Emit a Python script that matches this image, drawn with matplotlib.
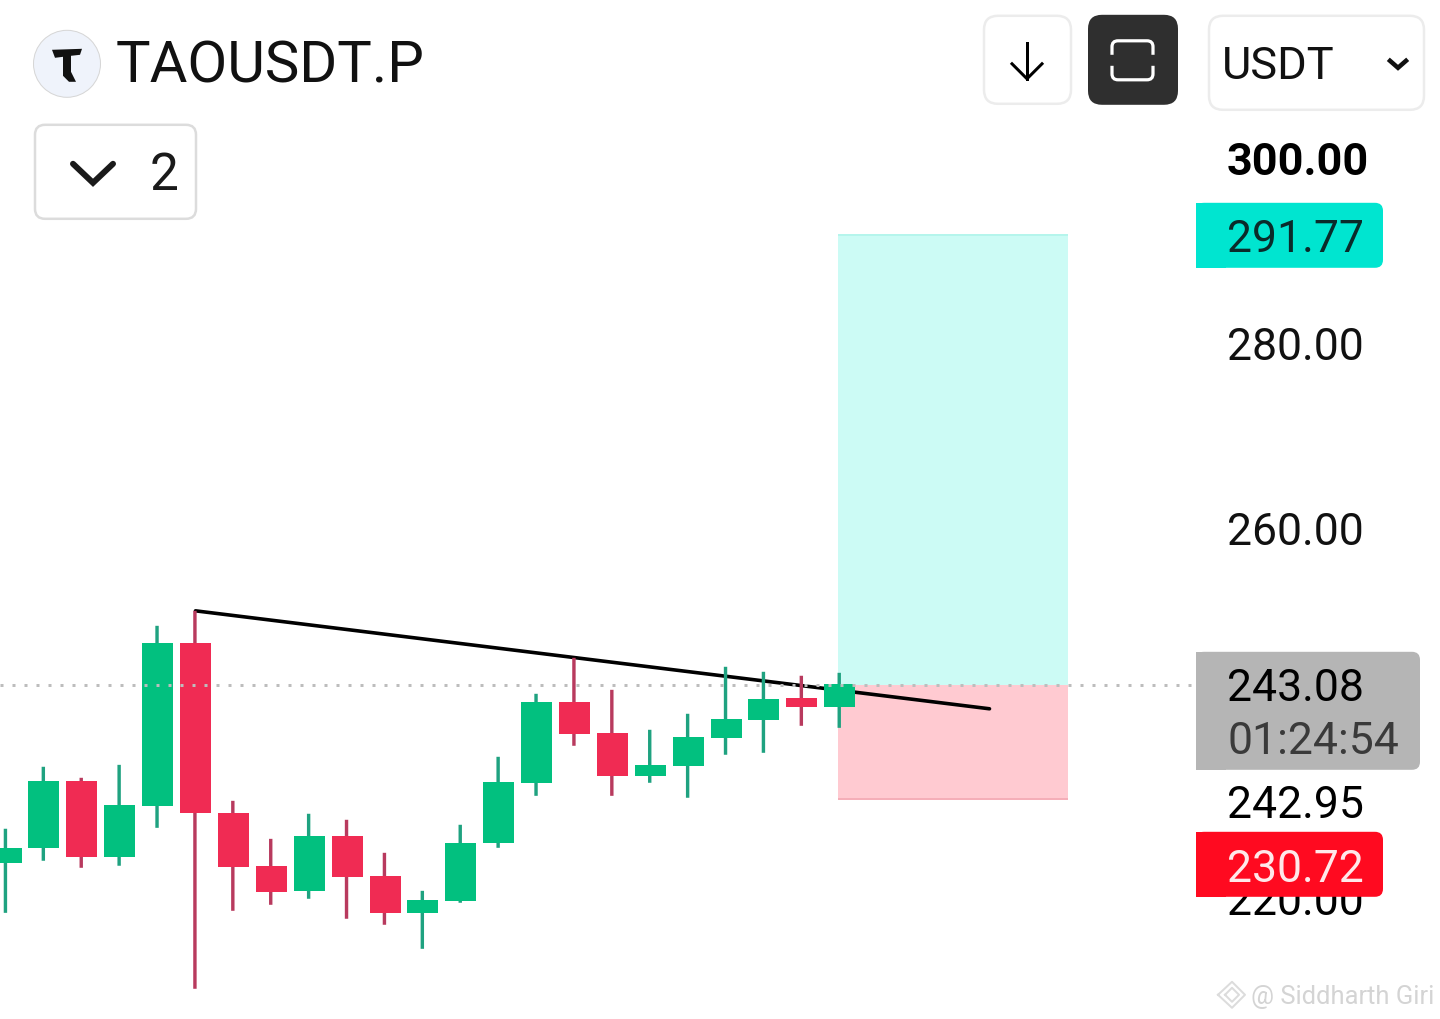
import matplotlib
matplotlib.use("Agg")
import matplotlib.pyplot as plt
from matplotlib.patches import Rectangle, FancyBboxPatch, Circle, Polygon, PathPatch
from matplotlib.path import Path

# candles
opens = [224.00, 225.62, 232.86, 224.65, 230.16, 247.78, 229.41, 223.68, 220.97, 226.92, 222.59, 218.59,
         219.89, 226.16, 232.65, 241.41, 238.05, 233.41, 234.49, 237.51, 239.46, 241.84, 240.86]
closes = [225.62, 232.86, 224.65, 230.27, 247.78, 229.41, 223.57, 220.86, 226.92, 222.49, 218.59, 220.00,
          226.16, 232.76, 241.41, 237.95, 233.41, 234.59, 237.62, 239.57, 241.73, 240.86, 243.35]
highs = [227.68, 234.38, 233.19, 234.59, 249.62, 251.24, 230.70, 226.59, 229.30, 228.65, 225.08, 220.97,
         228.11, 235.46, 242.27, 246.16, 242.70, 238.38, 240.11, 245.19, 244.65, 244.22, 244.54]
lows = [218.59, 224.22, 223.46, 223.68, 227.78, 210.38, 218.81, 219.46, 220.11, 217.95, 217.30, 214.70,
        219.68, 225.62, 231.24, 236.65, 231.24, 232.65, 231.03, 235.68, 235.89, 238.81, 238.59]

box_top = 291.88
box_mid = 243.2
box_bottom = 230.9
box_x = [21.95, 28.02]
trend_x = [5, 25.95]
trend_y = [251.24, 240.65]

symbol = "TAOUSDT.P"
quote = "USDT"
indicator_count = "2"
axis_ticks = ["280.00", "260.00"]
axis_tick_values = [280, 260]

GREEN = "#02C07F"
RED = "#F02B53"
GREEN_WICK = "#1FA280"
RED_WICK = "#B83A5E"
FONT = "Roboto"


def px(v):
    # line widths are easier to think about in pixels
    return v * 0.72


fig = plt.figure(figsize=(14.4, 10.2), dpi=100, facecolor="white")

# price chart fills the whole canvas: bar i sits at x = 6 + 37.9 i, 300 at y = 160
ax = fig.add_axes([0, 0, 1, 1])
ax.set_xlim(-6 / 37.9, (1440 - 6) / 37.9)
ax.set_ylim(300 - (1020 - 160.8) / 9.25, 300 + 160.8 / 9.25)
ax.axis("off")

ax.add_patch(Rectangle((box_x[0], box_mid), box_x[1] - box_x[0], box_top - box_mid, fc="#CCFBF5", ec="none", zorder=1))
ax.plot(box_x, [box_top, box_top], color="#B5F5EC", lw=px(2), zorder=1.1, solid_capstyle="butt")
ax.add_patch(Rectangle((box_x[0], box_bottom), box_x[1] - box_x[0], box_mid - box_bottom, fc="#FFCAD1", ec="none", zorder=1))
ax.plot(box_x, [box_bottom, box_bottom], color="#F5AEB8", lw=px(2), zorder=1.1, solid_capstyle="butt")

ax.plot(trend_x, trend_y, color="black", lw=px(3.6), zorder=2, solid_capstyle="round")

for i in range(len(opens)):
    up = closes[i] >= opens[i]
    ax.plot([i - 0.015, i - 0.015], [lows[i], highs[i]], color=GREEN_WICK if up else RED_WICK, lw=px(3.4), zorder=3,
            solid_capstyle="butt", snap=False)
    ax.bar(i, abs(closes[i] - opens[i]), 31 / 37.9, bottom=min(opens[i], closes[i]),
           color=GREEN if up else RED, zorder=4)

# dotted last price line
ax.plot([-6 / 37.9, (1192 - 6) / 37.9], [box_mid, box_mid], color="#BDBDBD", lw=px(3), zorder=5,
        linestyle=(0, (1, 3)), dash_capstyle="butt")

# interface on top, in pixel coordinates
ui = fig.add_axes([0, 0, 1, 1], facecolor="none")
ui.set_xlim(0, 1440)
ui.set_ylim(1019.2, -0.8)
ui.axis("off")


def rounded(x0, y0, x1, y1, r, fc, ec="none", lw=0, z=2):
    ui.add_patch(FancyBboxPatch((x0 + r, y0 + r), x1 - x0 - 2 * r, y1 - y0 - 2 * r,
                                boxstyle="round,pad=%f,rounding_size=%f" % (r, r),
                                fc=fc, ec=ec, lw=px(lw), zorder=z))


def badge(y0, y1, x1, color, z=3):
    rounded(1196, y0, x1, y1, 8, color, z=z)
    ui.add_patch(Rectangle((1196, y0), 30, y1 - y0, fc=color, ec="none", zorder=z))


def label(x, y, s, size=32, color="black", weight="normal", z=4):
    ui.text(x, y - 0.8, s, fontsize=size, color=color, fontweight=weight, family=FONT, ha="left", va="baseline", zorder=z)


# header
ui.add_patch(Circle((67, 64), 33.5, fc="#EFF3FB", ec="#D6D6D6", lw=px(1), zorder=2))
ui.add_patch(Polygon([(52, 50), (82, 49), (80, 55), (71, 56), (71, 72), (76, 82), (69, 82), (63, 76), (63, 57),
                      (55, 58)], closed=True, fc="#111111", ec="none", zorder=3))
label(116, 83, symbol, size=41.8, color="#111111")

rounded(35, 125, 196, 219, 10, "white", "#DCDCDC", 2.5)
ui.plot([73, 93, 113], [164, 183, 164], color="#1A1A1A", lw=px(6), solid_capstyle="round", solid_joinstyle="miter",
        zorder=3)
label(150, 190, indicator_count, size=37, color="#1A1A1A")

rounded(984, 16, 1071, 104, 14, "white", "#ECECEC", 2.5)
ui.plot([1027, 1027], [43, 79], color="black", lw=px(3), zorder=3)
ui.plot([1012, 1027, 1042], [64, 79, 64], color="black", lw=px(3), zorder=3)

rounded(1088, 15, 1178, 105, 14, "#2F2F2F")
for top, side in [(41, 55), (80, 66)]:
    d = 6 if top < side else -6
    verts = [(1112, side), (1112, top + d), (1112, top), (1118, top), (1147, top), (1153, top),
             (1153, top + d), (1153, side)]
    codes = [Path.MOVETO, Path.LINETO, Path.CURVE3, Path.CURVE3, Path.LINETO, Path.CURVE3, Path.CURVE3, Path.LINETO]
    ui.add_patch(PathPatch(Path(verts, codes), fc="none", ec="white", lw=px(3.2), zorder=3))

rounded(1209, 16, 1424, 110, 14, "white", "#ECECEC", 2.5)
label(1222, 79, quote, size=32.5, color="#111111")
ui.plot([1390, 1398, 1406], [61, 68, 61], color="#111111", lw=px(4.5), solid_joinstyle="miter", zorder=3)

# price axis
label(1227, 175, "300.00", size=32.4, weight="bold")
for tick, value in zip(axis_ticks, axis_tick_values):
    label(1227, 160 + 9.25 * (300 - value) + 15, tick, color="#111111")
label(1227, 818, "242.95")
label(1227, 915, "220.00", z=2.5)

badge(203, 268, 1383, "#00E5D0")
label(1227, 252, "291.77", color="#0A2B2A")
badge(652, 770, 1420, "#B5B5B5")
label(1227, 701, "243.08")
label(1227, 754, "01:24:54", color="#3A3A3A")
badge(832, 897, 1383, "#FF0A20")
label(1227, 882, "230.72", color="#FFE8EA")

# watermark
label(1251, 1004, "@ Siddharth Giri", size=18.4, color="#D4D4D4")
ui.plot([1218, 1232, 1245, 1232, 1218], [995, 982, 995, 1008, 995], color="#DCDCDC", lw=px(2), zorder=4)
ui.plot([1225, 1232, 1239, 1232, 1225], [995, 988, 995, 1002, 995], color="#DCDCDC", lw=px(2), zorder=4)

fig.savefig("out.png", dpi=100)
